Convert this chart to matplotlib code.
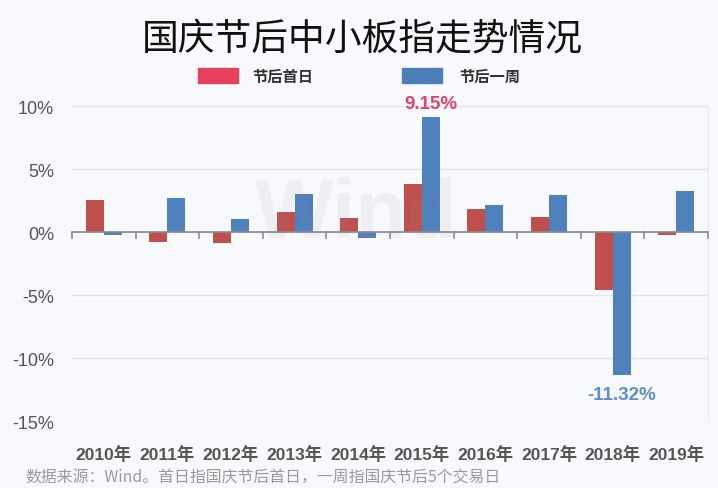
import matplotlib
matplotlib.use('Agg')
import matplotlib.pyplot as plt
import numpy as np

years = ['2010年', '2011年', '2012年', '2013年', '2014年',
         '2015年', '2016年', '2017年', '2018年', '2019年']
first_day = [2.54, -0.77, -0.87, 1.59, 1.11, 3.80, 1.83, 1.19, -4.58, -0.20]
first_week = [-0.20, 2.70, 1.03, 3.00, -0.45, 9.15, 2.14, 2.94, -11.32, 3.25]
yticks = [10, 5, 0, -5, -10, -15]

cjk = ['Noto Sans CJK SC', 'DejaVu Sans']
latin = ['Liberation Sans', 'Noto Sans CJK SC']
bg = '#f8f9fc'

fig = plt.figure(figsize=(7.18, 4.89), dpi=100, facecolor=bg)
ax = fig.add_axes([0.1003, 0.137, 0.8857, 0.644])
ax.set_facecolor(bg)

x = np.arange(len(years))
w = 0.283
ax.bar(x - w / 2, first_day, w, color='#c0504d', zorder=3)
ax.bar(x + w / 2, first_week, w, color='#4f81bd', zorder=3)

ax.set_xlim(-0.5, len(years) - 0.5)
ax.set_ylim(-15, 10)
ax.set_yticks(yticks)
ax.set_yticklabels([f'{t}%' for t in yticks], family=latin, fontsize=13, color='#555555')
ax.grid(axis='y', color='#e3e4e8', linewidth=1, zorder=0)
ax.tick_params(axis='y', length=0, pad=13)

ax.set_xticks([])
for s in ['top', 'left', 'bottom']:
    ax.spines[s].set_visible(False)
ax.spines['right'].set_color('#e8e9ee')

# zero line with category separators
ax.axhline(0, color='#8a8a8a', linewidth=1.2, zorder=4)
for b in np.arange(-0.5, len(years) + 0.5, 1.0):
    ax.plot([b, b], [0, -0.45], color='#8a8a8a', linewidth=1.2, zorder=4, clip_on=False)

for i, yr in enumerate(years):
    ax.text(i, -16.9, yr, ha='center', va='top', family=latin, fontsize=12.5,
            fontweight='bold', color='#555555')

# highlighted values
i15 = years.index('2015年')
ax.text(i15 + w / 2, first_week[i15] + 0.35, f'{first_week[i15]:.2f}%', ha='center',
        va='bottom', family=latin, fontsize=13.5, fontweight='bold', color='#e0436a', zorder=5)
i18 = years.index('2018年')
ax.text(i18 + w / 2, first_week[i18] - 0.9, f'{first_week[i18]:.2f}%', ha='center',
        va='top', family=latin, fontsize=13.5, fontweight='bold', color='#5b8fd0', zorder=5)

# watermark
fig.text(0.496, 0.56, 'Wind', ha='center', va='center', family=latin, fontsize=60,
         fontweight='bold', color='#8090a0', alpha=0.09, zorder=10)

# title
fig.text(0.505, 0.918, '国庆节后中小板指走势情况', ha='center', va='center',
         family=cjk, fontsize=26.5, color='#111111')

# legend
fig.patches.append(plt.Rectangle((198 / 718, 1 - 84 / 489), 40 / 718, 15 / 489,
                                 transform=fig.transFigure, color='#e8405f'))
fig.text(252 / 718, 1 - 77 / 489, '节后首日', ha='left', va='center', family=cjk,
         fontsize=11, fontweight='bold', color='#333333')
fig.patches.append(plt.Rectangle((402 / 718, 1 - 84 / 489), 40 / 718, 15 / 489,
                                 transform=fig.transFigure, color='#4a7fb8'))
fig.text(459 / 718, 1 - 77 / 489, '节后一周', ha='left', va='center', family=cjk,
         fontsize=11, fontweight='bold', color='#333333')

# source
fig.text(25 / 718, 1 - 478 / 489, '数据来源：Wind。首日指国庆节后首日，一周指国庆节后5个交易日',
         ha='left', va='center', family=cjk, fontsize=11.4, color='#9a9a9a')

fig.savefig('out.png', dpi=100, facecolor=bg)
